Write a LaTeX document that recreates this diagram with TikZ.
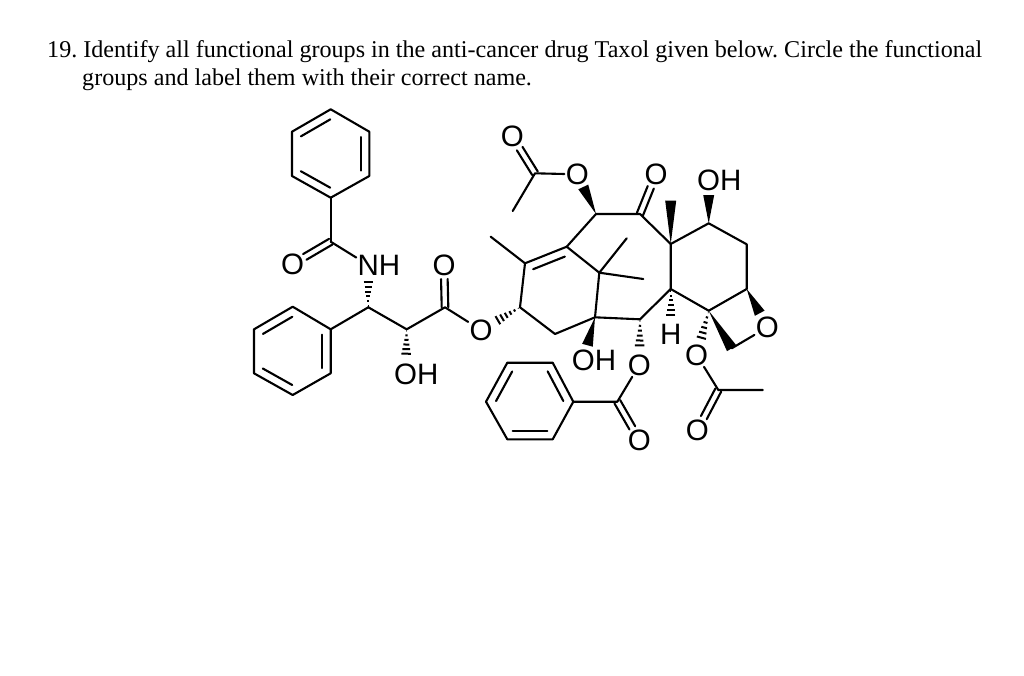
\documentclass[tikz,border=0pt]{standalone}
\usepackage{fontspec}
\setmainfont{Liberation Serif}
\newfontfamily\chemfont{Liberation Sans}
\usetikzlibrary{calc}
\tikzset{
  bond/.style={line width=2.1pt,line cap=round,line join=round,black},
  atom/.style={font=\chemfont\fontsize{29.5}{30}\selectfont,inner sep=1.2pt,text=black},
  prose/.style={font=\frenchspacing\fontsize{24.1}{28}\selectfont,anchor=base west,inner sep=0pt,text=black},
}
% inner line of a ring double bond, lying to the left of a->b
\newcommand\innerb[2]{\draw[bond] ($(#1)!.12!(#2)!8.5pt!90:(#2)$) -- ($(#1)!.88!(#2)!8.5pt!90:(#2)$);}
% symmetric double bond from a carbon to an atom node
\newcommand\dblb[2]{\draw[bond,shorten >=14pt] ($(#1)!3.3pt!90:(#2)$) -- ($(#2)!3.3pt!-90:(#1)$);
  \draw[bond,shorten >=14pt] ($(#1)!3.3pt!-90:(#2)$) -- ($(#2)!3.3pt!90:(#1)$);}
% wedge: tip at a, wide end at distance gap before b
\newcommand\wdg[3]{\fill[black] (#1) -- ($($(#2)!#3pt!(#1)$)!5.5pt!90:(#1)$) -- ($($(#2)!#3pt!(#1)$)!5.5pt!-90:(#1)$) -- cycle;}
% hashed wedge: narrow at a, wide end at distance gap before b
\newcommand\hsh[3]{\coordinate (hshend) at ($(#2)!#3pt!(#1)$);
  \foreach \t in {.05,.21,.37,.53,.69,.85,1}{
    \draw[line width=2pt,black] ($(#1)!\t!(hshend)!{\t*5.5pt}!90:(hshend)$) -- ($(#1)!\t!(hshend)!{\t*5.5pt}!-90:(hshend)$);}}
\begin{document}
\begin{tikzpicture}[x=1pt,y=-1pt]
\useasboundingbox (0,0) rectangle (1024,675);
\fill[white] (0,0) rectangle (1024,675);
\node[prose] (line1) at (47,57) {19. Identify all functional groups in the anti-cancer drug Taxol given below. Circle the functional};
\node[prose] (line2) at (82,85) {groups and label them with their correct name.};

% phenyl A
\coordinate (a1) at (330.7,109.3); \coordinate (a2) at (292,131.7); \coordinate (a3) at (292,176);
\coordinate (a4) at (330.7,197.7); \coordinate (a5) at (369.3,176); \coordinate (a6) at (369.3,131.7);
\draw[bond] (a1)--(a2)--(a3)--(a4)--(a5)--(a6)--cycle;
\innerb{a1}{a2}\innerb{a3}{a4}\innerb{a5}{a6}
% amide
\coordinate (cam) at (330.7,241.7);
\node[atom] (oam) at (292.7,264) {O};
\node[atom] (nh) at (368.3,265) {N\rlap{H}};
\draw[bond] (a4)--(cam);
\draw[bond] (cam)--(nh);
\dblb{cam}{oam}
\coordinate (cn) at (368.3,307.3);
\hsh{cn}{nh}{13}
% phenyl B
\coordinate (b1) at (330.7,329.3); \coordinate (b2) at (292.7,306.7); \coordinate (b3) at (254,329.3);
\coordinate (b4) at (254,373.3); \coordinate (b5) at (292.7,395); \coordinate (b6) at (330.7,373.3);
\draw[bond] (b1)--(b2)--(b3)--(b4)--(b5)--(b6)--cycle;
\innerb{b2}{b3}\innerb{b4}{b5}\innerb{b6}{b1}
\draw[bond] (b1)--(cn);
% side chain
\coordinate (coh) at (406.7,329.3);
\node[atom] (oh1) at (405.7,374) {O\rlap{H}};
\coordinate (cest) at (445,307.3);
\node[atom] (oest) at (444,265) {O};
\node[atom] (oe) at (481,330) {O};
\draw[bond] (cn)--(coh)--(cest)--(oe);
\hsh{coh}{oh1}{16}
\dblb{cest}{oest}
% seven/six ring system
\coordinate (r1) at (520,307.3); \coordinate (r2) at (525,263.3); \coordinate (r3) at (566.7,246.7);
\coordinate (r4) at (555,334); \coordinate (r5) at (595,317.3); \coordinate (r6) at (599.3,272.7);
\coordinate (me0) at (490.7,236.7); \coordinate (me1) at (626.7,238.3); \coordinate (me2) at (643.3,279);
\coordinate (s1) at (596,214); \coordinate (s2) at (640,214); \coordinate (s3) at (670.7,244);
\coordinate (s4) at (670.7,289); \coordinate (s5) at (640,319.3);
\coordinate (t1) at (708.7,223.3); \coordinate (t2) at (746.7,244.3); \coordinate (t3) at (746.7,289);
\coordinate (t4) at (708.7,310.7); \coordinate (ox) at (731.7,348.3); \coordinate (me3) at (670.7,200.7);
\draw[bond] (r1)--(r2)--(r3)--(r6)--(r5)--(r4)--cycle;
\innerb{r3}{r2}
\draw[bond] (r2)--(me0);
\draw[bond] (r6)--(me1);
\draw[bond] (r6)--(me2);
\draw[bond] (r3)--(s1)--(s2)--(s3)--(s4)--(s5)--(r5);
\draw[bond] (s3)--(t1)--(t2)--(t3)--(t4)--(s4);
\hsh{r1}{oe}{15}
% acetate top
\node[atom] (o1) at (577.3,174.3) {O};
\node[atom] (o2) at (512.3,136.7) {O};
\coordinate (ac1) at (535,173.3); \coordinate (ac1m) at (512.7,211);
\draw[bond] (ac1m)--(ac1)--(o1);
\dblb{ac1}{o2}
\wdg{s1}{o1}{14}
% ketone
\node[atom] (o3) at (656,174.3) {O};
\dblb{s2}{o3}
\wdg{s3}{me3}{0}
% hydroxyl top
\node[atom] (oh2) at (708.7,180) {O\rlap{H}};
\wdg{t1}{oh2}{15}
% oxetane
\node[atom] (o4) at (767.3,327.3) {O};
\wdg{t3}{o4}{16}
\wdg{t4}{ox}{0}
\draw[bond] (ox)--(o4);
% lower substituents
\node[atom] (oh3) at (583.3,360.7) {O\rlap{H}};
\wdg{r5}{oh3}{16}
\node[atom] (o5) at (639.3,365) {O};
\hsh{s5}{o5}{15}
\node[atom] (hh) at (670.7,334) {H};
\hsh{s4}{hh}{14}
\node[atom] (o6) at (696.7,355) {O};
\hsh{t4}{o6}{13}
% benzoate
\coordinate (cb) at (617.3,401.7);
\node[atom] (o7) at (639.3,440) {O};
\coordinate (p1) at (573.3,401.7); \coordinate (p2) at (552.7,362.7); \coordinate (p3) at (507.3,362.7);
\coordinate (p4) at (486,401.7); \coordinate (p5) at (507.3,439.3); \coordinate (p6) at (552.7,439.3);
\draw[bond] (p1)--(p2)--(p3)--(p4)--(p5)--(p6)--cycle;
\innerb{p3}{p4}\innerb{p5}{p6}\innerb{p1}{p2}
\draw[bond] (p1)--(cb)--(o5);
\dblb{cb}{o7}
% acetate bottom
\coordinate (ac2) at (718.3,390); \coordinate (ac2m) at (762.7,390);
\node[atom] (o8) at (697.3,430) {O};
\draw[bond] (o6)--(ac2)--(ac2m);
\dblb{ac2}{o8}
\end{tikzpicture}
\end{document}
